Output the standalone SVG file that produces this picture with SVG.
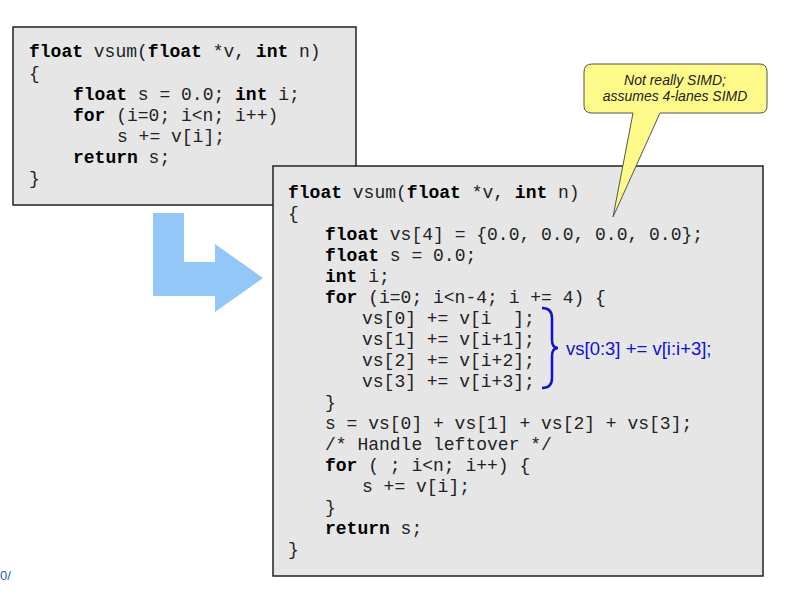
<svg xmlns="http://www.w3.org/2000/svg" width="788" height="595" viewBox="0 0 788 595">
<style>
.box{fill:#e6e6e6;stroke:#222;stroke-width:1.5}
.code{font-family:"Liberation Mono","Courier New",monospace;font-size:18px;fill:#222;white-space:pre}
.k{font-weight:bold;fill:#000}
.note{font-family:"Liberation Sans",Arial,sans-serif;font-style:italic;font-size:14px;fill:#222;text-anchor:middle}
</style>
<rect width="788" height="595" fill="#fff"/>
<g id="arrow"><polygon points="153,213 184,213 184,262 215,262 215,244 263,278 215,312 215,296 153,296" fill="#7fbdf7" opacity="0.85"/></g>
<g id="code1">
<rect class="box" x="13" y="27" width="343" height="178"/>
<text class="code" xml:space="preserve"><tspan x="29" y="57"><tspan class="k">float</tspan> vsum(<tspan class="k">float</tspan> *v, <tspan class="k">int</tspan> n)</tspan><tspan x="29" y="79">{</tspan><tspan x="73" y="100"><tspan class="k">float</tspan> s = 0.0; <tspan class="k">int</tspan> i;</tspan><tspan x="73" y="121"><tspan class="k">for</tspan> (i=0; i&lt;n; i++)</tspan><tspan x="117" y="142">s += v[i];</tspan><tspan x="73" y="163"><tspan class="k">return</tspan> s;</tspan><tspan x="29" y="184">}</tspan></text>
</g>
<g id="code2">
<rect class="box" x="273" y="166" width="490" height="410"/>
<text class="code" xml:space="preserve"><tspan x="288" y="198"><tspan class="k">float</tspan> vsum(<tspan class="k">float</tspan> *v, <tspan class="k">int</tspan> n)</tspan><tspan x="288" y="219">{</tspan><tspan x="325" y="240"><tspan class="k">float</tspan> vs[4] = {0.0, 0.0, 0.0, 0.0};</tspan><tspan x="325" y="261"><tspan class="k">float</tspan> s = 0.0;</tspan><tspan x="325" y="282"><tspan class="k">int</tspan> i;</tspan><tspan x="325" y="303"><tspan class="k">for</tspan> (i=0; i&lt;n-4; i += 4) {</tspan><tspan x="362" y="324">vs[0] += v[i  ];</tspan><tspan x="362" y="345">vs[1] += v[i+1];</tspan><tspan x="362" y="366">vs[2] += v[i+2];</tspan><tspan x="362" y="387">vs[3] += v[i+3];</tspan><tspan x="325" y="408">}</tspan><tspan x="325" y="429">s = vs[0] + vs[1] + vs[2] + vs[3];</tspan><tspan x="325" y="450">/* Handle leftover */</tspan><tspan x="325" y="471"><tspan class="k">for</tspan> ( ; i&lt;n; i++) {</tspan><tspan x="362" y="492">s += v[i];</tspan><tspan x="325" y="513">}</tspan><tspan x="325" y="534"><tspan class="k">return</tspan> s;</tspan><tspan x="288" y="555">}</tspan></text>
</g>
<g id="brace">
<path d="M542,308 Q552,308 552,318 L552,340 Q552,348 558,348 Q552,348 552,356 L552,378 Q552,388 542,388" fill="none" stroke="#1010d0" stroke-width="2.5"/>
<text x="566" y="355" font-family="Liberation Sans,Arial,sans-serif" font-size="18.5" fill="#1010d0">vs[0:3] += v[i:i+3];</text>
</g>
<g id="callout">
<path d="M592,64 L760,64 Q767,64 767,72 L767,106 Q767,113 760,113 L660,113 L613,217 L633,113 L592,113 Q584,113 584,106 L584,72 Q584,64 592,64 Z" fill="#fdfa8a" stroke="#555" stroke-width="1"/>
<text class="note" x="675" y="85">Not really SIMD;</text>
<text class="note" x="675" y="101">assumes 4-lanes SIMD</text>
</g>
<text x="0" y="580" font-family="Liberation Sans,Arial,sans-serif" font-size="13" fill="#2060c0">0/</text>
</svg>
